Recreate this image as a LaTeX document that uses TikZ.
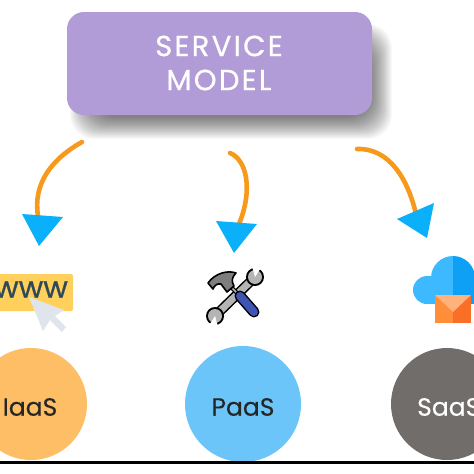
\documentclass[tikz,border=0pt]{standalone}
\usepackage{fontspec}
\setmainfont{Poppins}
\tikzset{
  x=1pt,y=-1pt,
  model/.style={circle,minimum size=112pt,inner sep=0pt},
  modeltext/.style={inner sep=0pt,font=\fontsize{25}{27}\selectfont\addfontfeature{FakeBold=0.3}},
  curve/.style={draw=curveorange,line width=4.6pt,line cap=round},
  head/.style={fill=headblue,draw=none},
  title/.style={text=white,font=\fontsize{29}{32}\selectfont\addfontfeature{LetterSpace=8,FakeBold=0.6},inner sep=0pt},
  outl/.style={draw=black,line width=1.6pt,line join=round}
}
\definecolor{curveorange}{HTML}{F79A1B}
\definecolor{headblue}{HTML}{0BB0FB}
\definecolor{boxpurple}{HTML}{B29CD8}
\definecolor{iaascol}{HTML}{FDBE66}
\definecolor{paascol}{HTML}{6BC5F8}
\definecolor{saascol}{HTML}{716D6B}
\definecolor{wwwyellow}{HTML}{FFD05B}
\definecolor{wwwtext}{HTML}{2F4858}
\definecolor{cursorgrey}{HTML}{DFE5EA}
\definecolor{cloudl}{HTML}{3DB9FF}
\definecolor{cloudr}{HTML}{0EA0F5}
\definecolor{toolgrey}{HTML}{B4B4B4}
\definecolor{handleblue}{HTML}{3F55B5}
\definecolor{envl}{HTML}{FF8D3A}
\definecolor{envr}{HTML}{FA6E28}
\definecolor{envf}{HTML}{FFB27C}
\begin{document}
\begin{tikzpicture}
\clip (0,0) rectangle (474,474);
\fill[white] (0,0) rectangle (474,474);
% soft shadow of the box
\foreach \i in {0,...,25}{
  \fill[black,opacity=0.024,rounded corners=24pt]
    ({70+\i*0.9},{24+\i*0.9}) rectangle ({392-\i*0.9},{139-\i*0.9});
}
\node[fill=boxpurple,rounded corners=17pt,minimum width=305pt,minimum height=103pt,inner sep=0pt] (box) at (219.5,63.5) {};
\node[title] (t1) at (219,46) {SERVICE};
\node[title] (t2) at (219,80) {MODEL};

% connectors
\coordinate (s1) at (82,142); \coordinate (e1) at (38,216);
\coordinate (s2) at (230,153); \coordinate (e2) at (239,224);
\coordinate (s3) at (357,149); \coordinate (e3) at (416,214);
\draw[curve] (s1) .. controls (50,160) and (33,185) .. (e1);
\draw[curve] (s2) .. controls (247,160) and (253,190) .. (e2);
\draw[curve] (s3) .. controls (390,148) and (408,180) .. (e3);
\fill[head] (22,214) -- (63,217) -- (39,246) -- cycle;
\fill[head] (216,221) -- (257,224) -- (234,253) -- cycle;
\fill[head] (397,219) -- (434,203) -- (427,238) -- cycle;

% www icon
\fill[wwwyellow,rounded corners=2pt] (-5,274) rectangle (73,311);
\node[text=wwwtext,inner sep=0pt,font=\fontsize{30}{31}\selectfont\addfontfeature{FakeBold=0.6}] (www) at (31,289.5) {www};
\fill[cursorgrey] (29,297) -- (64,310) -- (55,316) -- (66,327) -- (62,332) -- (50,320) -- (43,331) -- cycle;

% tools
\draw[black,line cap=round,line width=10pt] (216,315) -- (254,278);
\draw[toolgrey,line cap=round,line width=7pt] (216,315) -- (254,278);
\fill[black] (255,277) circle (9);
\fill[toolgrey] (255,277) circle (7);
\fill[white] (255,277) -- (252,266) -- (262,266) -- cycle;
\fill[black] (215,316) circle (9);
\fill[toolgrey] (215,316) circle (7);
\fill[white] (215,316) -- (218,327) -- (208,327) -- cycle;
\draw[black,line width=4pt] (229,285) -- (238,294);
\draw[toolgrey,line width=1.6pt] (229,285) -- (238,294);
\draw[black,line width=11pt,line cap=round] (240,296) -- (254,312);
\draw[handleblue,line width=8pt,line cap=round] (240,296) -- (254,312);
\filldraw[fill=toolgrey!70!black,outl] (208,283) .. controls (215,273) and (228,270) .. (236,273)
  .. controls (232,277) and (231,281) .. (234,286) -- (227,292) -- (221,284)
  .. controls (217,283) and (214,286) .. (213,289) -- cycle;

% cloud and envelope
\begin{scope}
\clip (400,240) rectangle (453,330);
\fill[cloudl] (453,278) circle (22);
\fill[cloudl] (427,290) circle (14);
\fill[cloudl] (427,276) rectangle (453,304);
\end{scope}
\begin{scope}
\clip (453,240) rectangle (474,330);
\fill[cloudr] (453,278) circle (22);
\fill[cloudr] (479,290) circle (14);
\fill[cloudr] (453,276) rectangle (479,304);
\end{scope}
\fill[envl] (435,295) rectangle (453,323);
\fill[envr] (453,295) rectangle (471,323);
\fill[envf] (435,295) -- (471,295) -- (453,312) -- cycle;

% model circles
\node[model,fill=iaascol] (iaas) at (31,404) {};
\node[model,fill=paascol,minimum size=116pt] (paas) at (243,404) {};
\node[model,fill=saascol] (saas) at (447,404) {};
\node[modeltext,text=black!85] (l1) at (30,407) {IaaS};
\node[modeltext,text=black!85] (l2) at (243,407) {PaaS};
\node[modeltext,text=white,anchor=west] (l3) at (417,407) {SaaS};

% base line
\coordinate (bl) at (0,462); \coordinate (br) at (474,462);
\draw[black,line width=3pt] (bl) -- (br);
\end{tikzpicture}
\end{document}
